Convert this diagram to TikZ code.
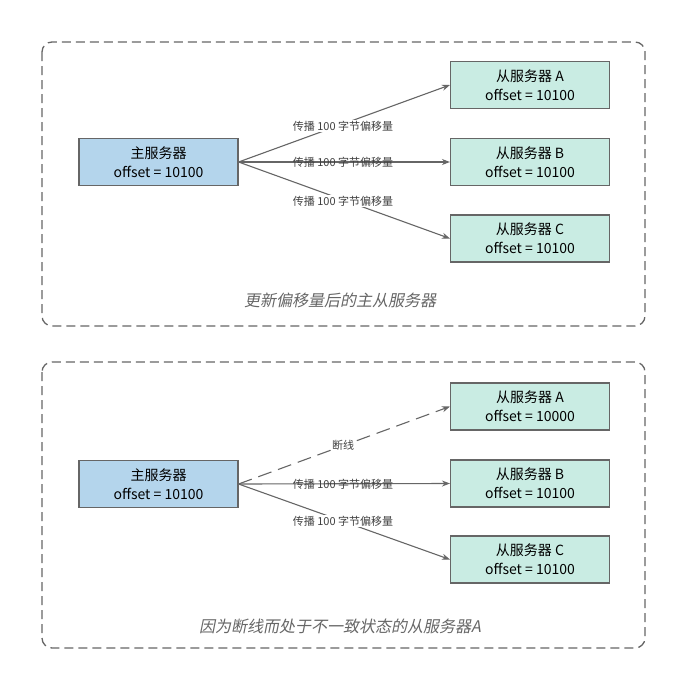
\documentclass[tikz,border=0pt]{standalone}
\usepackage{fontspec}
\setmainfont{Noto Sans CJK SC}
\newfontfamily\capfont{Noto Sans CJK SC}[FakeSlant=0.2]
\usetikzlibrary{arrows.meta}
\definecolor{mfill}{HTML}{B4D5EC}
\definecolor{sfill}{HTML}{C9ECE3}
\definecolor{edge}{HTML}{666666}
\begin{document}
\begin{tikzpicture}[x=1pt,y=-1pt,
  grp/.style={draw=edge,line width=1.3pt,dash pattern=on 9pt off 5pt,rounded corners=10pt},
  box/.style={draw=edge,line width=1.1pt,minimum width=159pt,minimum height=47pt,align=center,font=\fontsize{14}{19}\selectfont,inner sep=0pt},
  mst/.style={box,fill=mfill},
  slv/.style={box,fill=sfill},
  arr/.style={draw=edge,line width=1.1pt,-{Stealth[length=8pt,width=6pt]}},
  lbl/.style={font=\fontsize{11}{12}\selectfont,text=black!75,fill=white,inner sep=1pt},
  captxt/.style={font=\capfont\fontsize{16}{18}\selectfont,text=black!60}]
\useasboundingbox (0,0) rectangle (687,688);
\fill[white] (0,0) rectangle (687,688);
\draw[grp] (42,42) rectangle (645,326);
\draw[grp] (42,362) rectangle (645,648);
\node[mst] (m1) at (158.5,162) {主服务器\\offset = 10100};
\node[slv] (a1) at (530,85) {从服务器 A\\offset = 10100};
\node[slv] (b1) at (530,162) {从服务器 B\\offset = 10100};
\node[slv] (c1) at (530,238.5) {从服务器 C\\offset = 10100};
\draw[arr] (m1.east) -- (a1.west);
\draw[arr] (m1.east) -- (b1.west);
\draw[arr] (m1.east) -- (c1.west);
\node[lbl] (l1) at (343,126) {传播 100 字节偏移量};
\node[lbl,fill=none] (l2) at (343,162) {传播 100 字节偏移量};
\node[lbl] (l3) at (343,201) {传播 100 字节偏移量};
\node[captxt] (t1) at (340,300) {更新偏移量后的主从服务器};
\node[mst] (m2) at (158.5,484) {主服务器\\offset = 10100};
\node[slv] (a2) at (530,406.5) {从服务器 A\\offset = 10000};
\node[slv] (b2) at (530,483.5) {从服务器 B\\offset = 10100};
\node[slv] (c2) at (530,559.5) {从服务器 C\\offset = 10100};
\draw[arr,dash pattern=on 14pt off 7pt] (m2.east) -- (a2.west);
\draw[arr] (m2.east) -- (b2.west);
\draw[arr] (m2.east) -- (c2.west);
\node[lbl] (l4) at (343,445) {断线};
\node[lbl,fill=none] (l5) at (343,484) {传播 100 字节偏移量};
\node[lbl] (l6) at (343,521) {传播 100 字节偏移量};
\node[captxt] (t2) at (340,626) {因为断线而处于不一致状态的从服务器A};
\end{tikzpicture}
\end{document}
